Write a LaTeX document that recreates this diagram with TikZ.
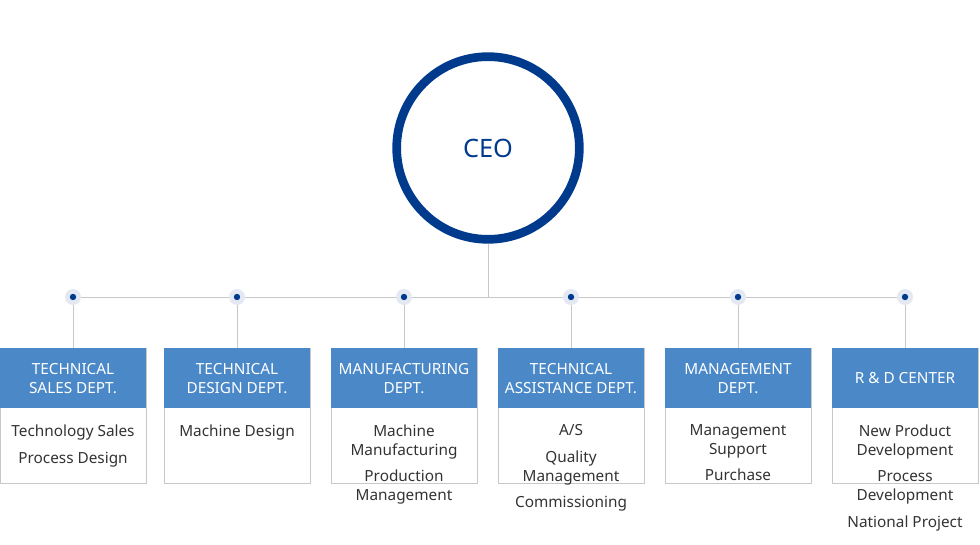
\documentclass[tikz,border=0pt]{standalone}
\usepackage{fontspec}
\setmainfont{Noto Sans}
\definecolor{navy}{HTML}{003A8C}
\definecolor{hdr}{HTML}{4A88C8}
\definecolor{halo}{HTML}{E3E8F3}
\definecolor{gline}{HTML}{C8C8C8}
\definecolor{txt}{HTML}{333333}
\begin{document}
\begin{tikzpicture}[x=0.75pt,y=-0.75pt,
  box/.style={draw=gline,line width=0.75pt,minimum width=109.5pt,minimum height=101.25pt,inner sep=0pt},
  head/.style={fill=hdr,minimum width=109.5pt,minimum height=45pt,inner sep=0pt,text=white,align=center,font=\fontsize{11.5}{14}\selectfont},
  body/.style={align=center,text=txt,font=\fontsize{11.5}{14}\selectfont,anchor=north},
  ln/.style={draw=gline,line width=0.75pt}]
\useasboundingbox (0,0) rectangle (980,545);
\node[circle,draw=navy,line width=6.5pt,minimum size=137pt,text=navy,font=\fontsize{19}{22}\selectfont] (ceo) at (488,148) {CEO};
\coordinate (j) at (488,297);
\draw[ln] (ceo.south) -- (j);
\foreach \i/\x in {1/73,2/237,3/404,4/571,5/738,6/905}{
  \node[box,anchor=north] (b\i) at (\x,348) {};
  \node[head,anchor=north] (h\i) at (\x,348) {};
  \coordinate (d\i) at (\x,297);
}
\draw[ln] (d1) -- (d6);
\foreach \i in {1,...,6}{
  \draw[ln] (d\i) -- (h\i.north);
  \fill[halo] (d\i) circle (6pt);
  \fill[navy] (d\i) circle (2.4pt);
}
\node[head,anchor=north] at (h1.north) {TECHNICAL\\SALES DEPT.};
\node[head,anchor=north] at (h2.north) {TECHNICAL\\DESIGN DEPT.};
\node[head,anchor=north] at (h3.north) {MANUFACTURING\\DEPT.};
\node[head,anchor=north] at (h4.north) {TECHNICAL\\ASSISTANCE DEPT.};
\node[head,anchor=north] at (h5.north) {MANAGEMENT\\DEPT.};
\node[head,anchor=north] at (h6.north) {R \& D CENTER};
\node[body] (t1) at (73,420) {Technology Sales\\[6pt]Process Design};
\node[body] (t2) at (237,420) {Machine Design};
\node[body] (t3) at (404,420) {Machine\\Manufacturing\\[6pt]Production\\Management};
\node[body] (t4) at (571,420) {A/S\\[6pt]Quality\\Management\\[6pt]Commissioning};
\node[body] (t5) at (738,420) {Management\\Support\\[6pt]Purchase};
\node[body] (t6) at (905,420) {New Product\\Development\\[6pt]Process\\Development\\[6pt]National Project};
\end{tikzpicture}
\end{document}
